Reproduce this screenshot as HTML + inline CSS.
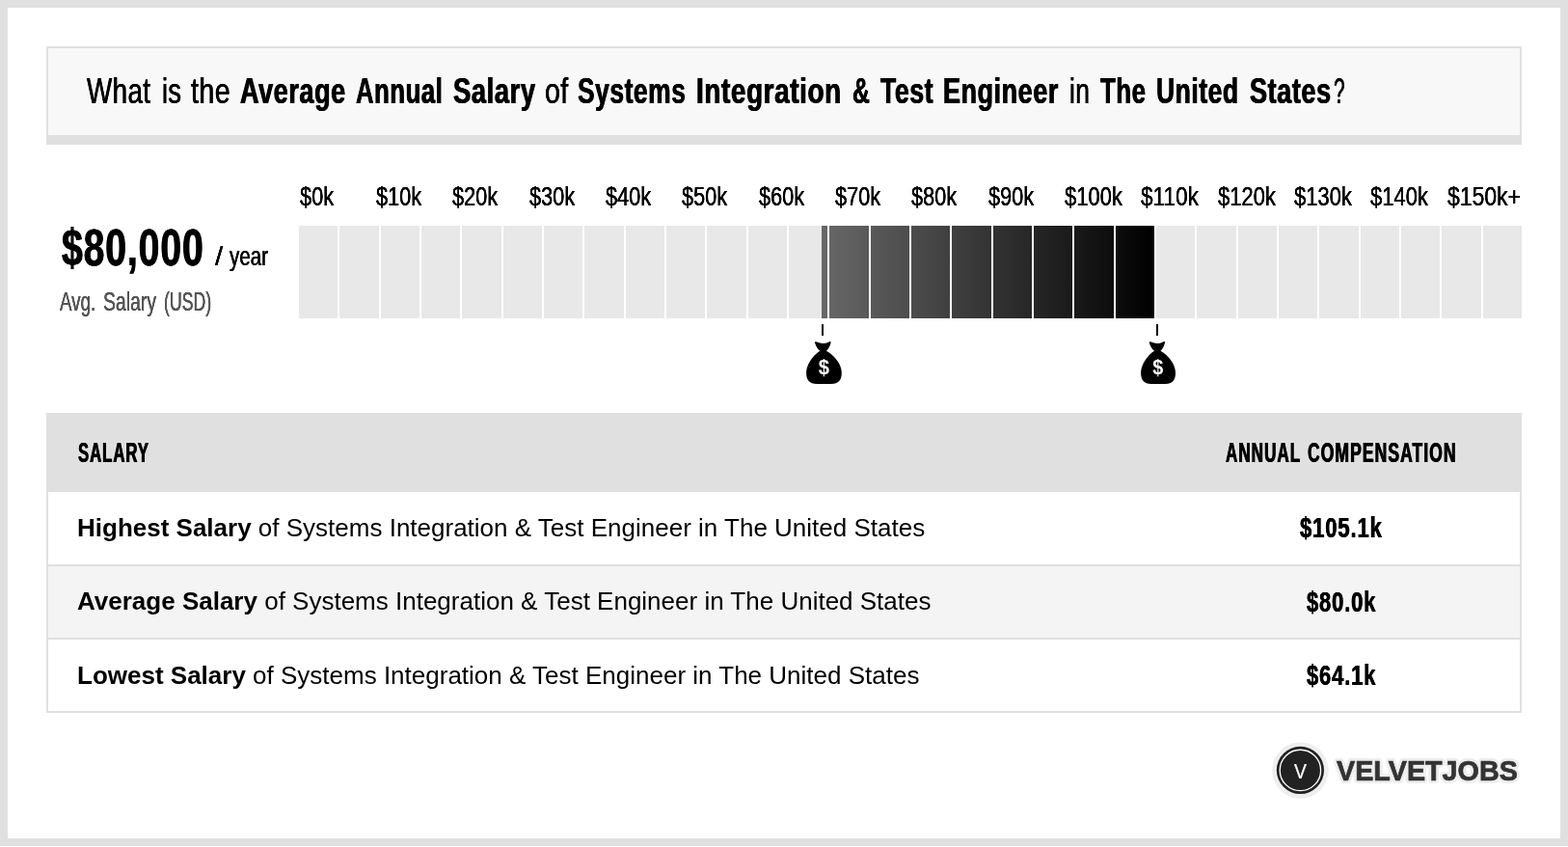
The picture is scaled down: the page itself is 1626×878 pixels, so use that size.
<!DOCTYPE html>
<html lang="en">
<head>
<meta charset="utf-8">
<title>Average Annual Salary of Systems Integration &amp; Test Engineer in The United States</title>
<style>
*{box-sizing:border-box;margin:0;padding:0}
html,body{width:1626px;height:878px;background:#fff;overflow:hidden}
body{position:relative;font-family:"Liberation Sans",Arial,sans-serif;color:#000}
.frame{position:absolute;left:0;top:0;width:1626px;height:877px;border:8px solid #e0e0e0;background:#fff}
.w{position:absolute;display:block;white-space:nowrap;transform-origin:0 50%;text-shadow:.45px 0 0 currentColor,-.45px 0 0 currentColor}
.hdr{position:absolute;left:48px;top:48px;width:1530px;height:102px;border:2px solid #e0e0e0;border-bottom-width:10px;background:#f8f8f8}
.bar{position:absolute;left:310px;top:234px;width:1268px;height:96px;background:#e8e8e8;overflow:hidden}
.fill{position:absolute;left:541.9px;top:0;width:346.5px;height:96px;background:linear-gradient(90deg,#686868 0%,#000 100%)}
.bar i{position:absolute;top:0;width:2px;height:96px;background:#fff}
.tick{position:absolute;top:336px;width:2px;height:12px;background:#000}
.bag{position:absolute;top:354px;width:37px;height:44px;overflow:visible}
.vj{color:#333;-webkit-text-stroke:.7px #333;text-shadow:3.40px 0.00px .6px #eee,3.19px 1.16px .6px #eee,2.60px 2.19px .6px #eee,1.70px 2.94px .6px #eee,0.59px 3.35px .6px #eee,-0.59px 3.35px .6px #eee,-1.70px 2.94px .6px #eee,-2.60px 2.19px .6px #eee,-3.19px 1.16px .6px #eee,-3.40px 0.00px .6px #eee,-3.19px -1.16px .6px #eee,-2.60px -2.19px .6px #eee,-1.70px -2.94px .6px #eee,-0.59px -3.35px .6px #eee,0.59px -3.35px .6px #eee,1.70px -2.94px .6px #eee,2.60px -2.19px .6px #eee,3.19px -1.16px .6px #eee,2.20px 0.00px .6px #eee,2.07px 0.75px .6px #eee,1.69px 1.41px .6px #eee,1.10px 1.91px .6px #eee,0.38px 2.17px .6px #eee,-0.38px 2.17px .6px #eee,-1.10px 1.91px .6px #eee,-1.69px 1.41px .6px #eee,-2.07px 0.75px .6px #eee,-2.20px 0.00px .6px #eee,-2.07px -0.75px .6px #eee,-1.69px -1.41px .6px #eee,-1.10px -1.91px .6px #eee,-0.38px -2.17px .6px #eee,0.38px -2.17px .6px #eee,1.10px -1.91px .6px #eee,1.69px -1.41px .6px #eee,2.07px -0.75px .6px #eee}
.logo{position:absolute;left:1310px;top:760px;width:280px;height:70px;overflow:visible}
.tbl{position:absolute;left:48px;top:428px;width:1530px;height:311px;border:2px solid #e0e0e0;border-top:0;background:#fff}
.th{position:absolute;left:-2px;top:0;width:1530px;height:82px;background:#e0e0e0}
.row{position:absolute;left:0;width:1526px}
.line{position:absolute;left:0;width:1526px;height:2px;background:#e0e0e0}
.rt{position:absolute;left:80px;font-size:26px;line-height:30px;white-space:nowrap;color:#000}
</style>
</head>
<body>
<div class="frame"></div>
<div class="hdr"></div>

<div class="bar"><div class="fill"></div>
  <i style="left:40.33px"></i>
  <i style="left:82.67px"></i>
  <i style="left:125.00px"></i>
  <i style="left:167.33px"></i>
  <i style="left:209.67px"></i>
  <i style="left:252.00px"></i>
  <i style="left:294.33px"></i>
  <i style="left:336.67px"></i>
  <i style="left:379.00px"></i>
  <i style="left:421.33px"></i>
  <i style="left:463.67px"></i>
  <i style="left:506.00px"></i>
  <i style="left:548.33px"></i>
  <i style="left:590.67px"></i>
  <i style="left:633.00px"></i>
  <i style="left:675.33px"></i>
  <i style="left:717.67px"></i>
  <i style="left:760.00px"></i>
  <i style="left:802.33px"></i>
  <i style="left:844.67px"></i>
  <i style="left:887.00px"></i>
  <i style="left:929.33px"></i>
  <i style="left:971.67px"></i>
  <i style="left:1014.00px"></i>
  <i style="left:1056.33px"></i>
  <i style="left:1098.67px"></i>
  <i style="left:1141.00px"></i>
  <i style="left:1183.33px"></i>
  <i style="left:1225.67px"></i>
</div>
<div class="tick" style="left:852px"></div>
<div class="tick" style="left:1199px"></div>

<div class="tbl">
  <div class="th"></div>
  <div class="row" style="top:82px;height:75px"></div>
  <div class="line" style="top:157px"></div>
  <div class="row" style="top:159px;height:74px;background:#f4f4f4"></div>
  <div class="line" style="top:233px"></div>
  <div class="row" style="top:235px;height:74px"></div>
</div>
<div class="rt" style="top:532px"><b>Highest Salary</b> of Systems Integration &amp; Test Engineer in The United States</div>
<div class="rt" style="top:608px"><b>Average Salary</b> of Systems Integration &amp; Test Engineer in The United States</div>
<div class="rt" style="top:685px"><b>Lowest Salary</b> of Systems Integration &amp; Test Engineer in The United States</div>

<div class="title">
 <span class="w" style="left:90.30px;top:72.80px;font-size:37px;line-height:44px;transform:scaleX(0.7511);text-shadow:0.36px 0 0 currentColor,-0.36px 0 0 currentColor;letter-spacing:0.5px">What</span>
 <span class="w" style="left:167.80px;top:72.80px;font-size:37px;line-height:44px;transform:scaleX(0.7303);text-shadow:0.36px 0 0 currentColor,-0.36px 0 0 currentColor;letter-spacing:0.5px">is</span>
 <span class="w" style="left:198.10px;top:72.80px;font-size:37px;line-height:44px;transform:scaleX(0.7743);text-shadow:0.36px 0 0 currentColor,-0.36px 0 0 currentColor;letter-spacing:0.5px">the</span>
 <span class="w" style="left:248.80px;top:72.80px;font-size:37px;line-height:44px;transform:scaleX(0.7305);text-shadow:0.52px 0 0 currentColor,-0.52px 0 0 currentColor;letter-spacing:0.8px;font-weight:bold">Average</span>
 <span class="w" style="left:369.00px;top:72.80px;font-size:37px;line-height:44px;transform:scaleX(0.6941);text-shadow:0.52px 0 0 currentColor,-0.52px 0 0 currentColor;letter-spacing:0.8px;font-weight:bold">Annual</span>
 <span class="w" style="left:470.00px;top:72.80px;font-size:37px;line-height:44px;transform:scaleX(0.7396);text-shadow:0.52px 0 0 currentColor,-0.52px 0 0 currentColor;letter-spacing:0.8px;font-weight:bold">Salary</span>
 <span class="w" style="left:565.00px;top:72.80px;font-size:37px;line-height:44px;transform:scaleX(0.7730);text-shadow:0.36px 0 0 currentColor,-0.36px 0 0 currentColor;letter-spacing:0.5px">of</span>
 <span class="w" style="left:598.70px;top:72.80px;font-size:37px;line-height:44px;transform:scaleX(0.7128);text-shadow:0.52px 0 0 currentColor,-0.52px 0 0 currentColor;letter-spacing:0.8px;font-weight:bold">Systems</span>
 <span class="w" style="left:722.40px;top:72.80px;font-size:37px;line-height:44px;transform:scaleX(0.7541);text-shadow:0.52px 0 0 currentColor,-0.52px 0 0 currentColor;letter-spacing:0.8px;font-weight:bold">Integration</span>
 <span class="w" style="left:884.10px;top:72.80px;font-size:37px;line-height:44px;transform:scaleX(0.6729);text-shadow:0.52px 0 0 currentColor,-0.52px 0 0 currentColor;letter-spacing:0.8px;font-weight:bold">&amp;</span>
 <span class="w" style="left:912.70px;top:72.80px;font-size:37px;line-height:44px;transform:scaleX(0.7211);text-shadow:0.52px 0 0 currentColor,-0.52px 0 0 currentColor;letter-spacing:0.8px;font-weight:bold">Test</span>
 <span class="w" style="left:978.40px;top:72.80px;font-size:37px;line-height:44px;transform:scaleX(0.7278);text-shadow:0.52px 0 0 currentColor,-0.52px 0 0 currentColor;letter-spacing:0.8px;font-weight:bold">Engineer</span>
 <span class="w" style="left:1108.70px;top:72.80px;font-size:37px;line-height:44px;transform:scaleX(0.7130);text-shadow:0.36px 0 0 currentColor,-0.36px 0 0 currentColor;letter-spacing:0.5px">in</span>
 <span class="w" style="left:1140.90px;top:72.80px;font-size:37px;line-height:44px;transform:scaleX(0.6972);text-shadow:0.52px 0 0 currentColor,-0.52px 0 0 currentColor;letter-spacing:0.8px;font-weight:bold">The</span>
 <span class="w" style="left:1199.20px;top:72.80px;font-size:37px;line-height:44px;transform:scaleX(0.7144);text-shadow:0.52px 0 0 currentColor,-0.52px 0 0 currentColor;letter-spacing:0.8px;font-weight:bold">United</span>
 <span class="w" style="left:1295.90px;top:72.80px;font-size:37px;line-height:44px;transform:scaleX(0.7309);text-shadow:0.52px 0 0 currentColor,-0.52px 0 0 currentColor;letter-spacing:0.8px;font-weight:bold">States</span>
 <span class="w" style="left:1382.89px;top:72.80px;font-size:37px;line-height:44px;transform:scaleX(0.5600);text-shadow:0.36px 0 0 currentColor,-0.36px 0 0 currentColor;letter-spacing:0.5px">?</span>
</div>
<div class="axis">
 <span class="w" style="left:310.60px;top:186.70px;font-size:28px;line-height:34px;transform:scaleX(0.7790);text-shadow:0.12px 0 0 currentColor,-0.12px 0 0 currentColor">$0k</span>
 <span class="w" style="left:389.93px;top:186.70px;font-size:28px;line-height:34px;transform:scaleX(0.7770);text-shadow:0.12px 0 0 currentColor,-0.12px 0 0 currentColor">$10k</span>
 <span class="w" style="left:469.26px;top:186.70px;font-size:28px;line-height:34px;transform:scaleX(0.7770);text-shadow:0.12px 0 0 currentColor,-0.12px 0 0 currentColor">$20k</span>
 <span class="w" style="left:548.59px;top:186.70px;font-size:28px;line-height:34px;transform:scaleX(0.7770);text-shadow:0.12px 0 0 currentColor,-0.12px 0 0 currentColor">$30k</span>
 <span class="w" style="left:627.92px;top:186.70px;font-size:28px;line-height:34px;transform:scaleX(0.7770);text-shadow:0.12px 0 0 currentColor,-0.12px 0 0 currentColor">$40k</span>
 <span class="w" style="left:707.25px;top:186.70px;font-size:28px;line-height:34px;transform:scaleX(0.7770);text-shadow:0.12px 0 0 currentColor,-0.12px 0 0 currentColor">$50k</span>
 <span class="w" style="left:786.58px;top:186.70px;font-size:28px;line-height:34px;transform:scaleX(0.7770);text-shadow:0.12px 0 0 currentColor,-0.12px 0 0 currentColor">$60k</span>
 <span class="w" style="left:865.91px;top:186.70px;font-size:28px;line-height:34px;transform:scaleX(0.7770);text-shadow:0.12px 0 0 currentColor,-0.12px 0 0 currentColor">$70k</span>
 <span class="w" style="left:945.24px;top:186.70px;font-size:28px;line-height:34px;transform:scaleX(0.7770);text-shadow:0.12px 0 0 currentColor,-0.12px 0 0 currentColor">$80k</span>
 <span class="w" style="left:1024.57px;top:186.70px;font-size:28px;line-height:34px;transform:scaleX(0.7770);text-shadow:0.12px 0 0 currentColor,-0.12px 0 0 currentColor">$90k</span>
 <span class="w" style="left:1103.90px;top:186.70px;font-size:28px;line-height:34px;transform:scaleX(0.7856);text-shadow:0.12px 0 0 currentColor,-0.12px 0 0 currentColor">$100k</span>
 <span class="w" style="left:1183.23px;top:186.70px;font-size:28px;line-height:34px;transform:scaleX(0.8081);text-shadow:0.12px 0 0 currentColor,-0.12px 0 0 currentColor">$110k</span>
 <span class="w" style="left:1262.56px;top:186.70px;font-size:28px;line-height:34px;transform:scaleX(0.7856);text-shadow:0.12px 0 0 currentColor,-0.12px 0 0 currentColor">$120k</span>
 <span class="w" style="left:1341.89px;top:186.70px;font-size:28px;line-height:34px;transform:scaleX(0.7856);text-shadow:0.12px 0 0 currentColor,-0.12px 0 0 currentColor">$130k</span>
 <span class="w" style="left:1421.22px;top:186.70px;font-size:28px;line-height:34px;transform:scaleX(0.7856);text-shadow:0.12px 0 0 currentColor,-0.12px 0 0 currentColor">$140k</span>
 <span class="w" style="left:1500.55px;top:186.70px;font-size:28px;line-height:34px;transform:scaleX(0.8205);text-shadow:0.12px 0 0 currentColor,-0.12px 0 0 currentColor">$150k+</span>
</div>
<div class="stat">
 <span class="w" style="left:63.50px;top:224.50px;font-size:53px;line-height:64px;transform:scaleX(0.7381);text-shadow:0.6px 0 0 currentColor,-0.6px 0 0 currentColor;letter-spacing:1.2px;font-weight:bold">$80,000</span>
 <span class="w" style="left:223.45px;top:248.50px;font-size:28px;line-height:34px;transform:scaleX(1.0500);text-shadow:0.1px 0 0 currentColor,-0.1px 0 0 currentColor">/</span>
 <span class="w" style="left:237.90px;top:248.50px;font-size:28px;line-height:34px;transform:scaleX(0.7339);text-shadow:0.2px 0 0 currentColor,-0.2px 0 0 currentColor">year</span>
 <span class="w" style="left:62.30px;top:296.00px;font-size:27.5px;line-height:33px;transform:scaleX(0.6826);text-shadow:0.12px 0 0 currentColor,-0.12px 0 0 currentColor;color:#555">Avg.</span>
 <span class="w" style="left:107.20px;top:296.00px;font-size:27.5px;line-height:33px;transform:scaleX(0.7057);text-shadow:0.12px 0 0 currentColor,-0.12px 0 0 currentColor;color:#555">Salary</span>
 <span class="w" style="left:169.60px;top:296.00px;font-size:27.5px;line-height:33px;transform:scaleX(0.6442);text-shadow:0.12px 0 0 currentColor,-0.12px 0 0 currentColor;color:#555">(USD)</span>
</div>
<div class="thead">
 <span class="w" style="left:80.70px;top:450.50px;font-size:30px;line-height:36px;transform:scaleX(0.5562);text-shadow:0.6px 0 0 currentColor,-0.6px 0 0 currentColor;letter-spacing:1.8px;font-weight:bold">SALARY</span>
 <span class="w" style="left:1271.00px;top:450.50px;font-size:30px;line-height:36px;transform:scaleX(0.5692);text-shadow:0.6px 0 0 currentColor,-0.6px 0 0 currentColor;letter-spacing:1.8px;font-weight:bold">ANNUAL</span>
 <span class="w" style="left:1355.90px;top:450.50px;font-size:30px;line-height:36px;transform:scaleX(0.5849);text-shadow:0.6px 0 0 currentColor,-0.6px 0 0 currentColor;letter-spacing:1.8px;font-weight:bold">COMPENSATION</span>
</div>
<div class="vals">
 <span class="w" style="left:1348.40px;top:529.10px;font-size:30px;line-height:36px;transform:scaleX(0.7338);text-shadow:0.4px 0 0 currentColor,-0.4px 0 0 currentColor;letter-spacing:1.2px;font-weight:bold">$105.1k</span>
 <span class="w" style="left:1354.90px;top:605.50px;font-size:30px;line-height:36px;transform:scaleX(0.7300);text-shadow:0.4px 0 0 currentColor,-0.4px 0 0 currentColor;letter-spacing:1.2px;font-weight:bold">$80.0k</span>
 <span class="w" style="left:1354.90px;top:682.00px;font-size:30px;line-height:36px;transform:scaleX(0.7300);text-shadow:0.4px 0 0 currentColor,-0.4px 0 0 currentColor;letter-spacing:1.2px;font-weight:bold">$64.1k</span>
</div>
<span class="w vj" style="left:1385.50px;top:780.50px;font-size:29.8px;line-height:36px;transform:scaleX(0.9639);font-weight:bold">VELVETJOBS</span>

<svg class="bag" style="left:836px" viewBox="0 0 37 44">
  <path d="M9.3,2.2 C8.5,0.5 9.3,-0.1 11,0.6 Q17.5,3.3 23.6,0.4 C25.4,-0.4 26.1,0.4 25.3,2.2 C24.3,5.4 23,7.8 20.9,9.7 C30,14.5 37,24.5 36.8,32.5 C36.8,40 33.5,43.9 26,43.9 L11,43.9 C3.5,43.9 0.1,40 0.1,32.5 C0.1,24.5 6.5,14.5 14.3,9.7 C12,7.8 10.4,5.4 9.3,2.2 Z" fill="#000"/>
  <text x="18.3" y="34.4" text-anchor="middle" font-family="Liberation Sans, Arial, sans-serif" font-weight="bold" font-size="22.5" fill="#fff" transform="translate(18.3 0) scale(.9 1) translate(-18.3 0)">$</text>
</svg>
<svg class="bag" style="left:1182.7px;width:36.2px" preserveAspectRatio="none" viewBox="0 0 37 44">
  <path d="M9.3,2.2 C8.5,0.5 9.3,-0.1 11,0.6 Q17.5,3.3 23.6,0.4 C25.4,-0.4 26.1,0.4 25.3,2.2 C24.3,5.4 23,7.8 20.9,9.7 C30,14.5 37,24.5 36.8,32.5 C36.8,40 33.5,43.9 26,43.9 L11,43.9 C3.5,43.9 0.1,40 0.1,32.5 C0.1,24.5 6.5,14.5 14.3,9.7 C12,7.8 10.4,5.4 9.3,2.2 Z" fill="#000"/>
  <text x="18.3" y="34.4" text-anchor="middle" font-family="Liberation Sans, Arial, sans-serif" font-weight="bold" font-size="22.5" fill="#fff" transform="translate(18.3 0) scale(.9 1) translate(-18.3 0)">$</text>
</svg>

<svg class="logo" viewBox="0 0 280 70">
  <circle cx="38.4" cy="38.6" r="29.2" fill="#eee"/>
  <circle cx="38.4" cy="38.4" r="24.6" fill="#222"/>
  <circle cx="38.4" cy="38.4" r="21.2" fill="none" stroke="#fff" stroke-width="1.35"/>
  <text x="38.4" y="47.2" text-anchor="middle" font-family="Liberation Sans, Arial, sans-serif" font-size="22" fill="#fff" stroke="#fff" stroke-width=".25" transform="translate(38.4 0) scale(.88 1) translate(-38.4 0)">V</text>
</svg>
</body>
</html>
